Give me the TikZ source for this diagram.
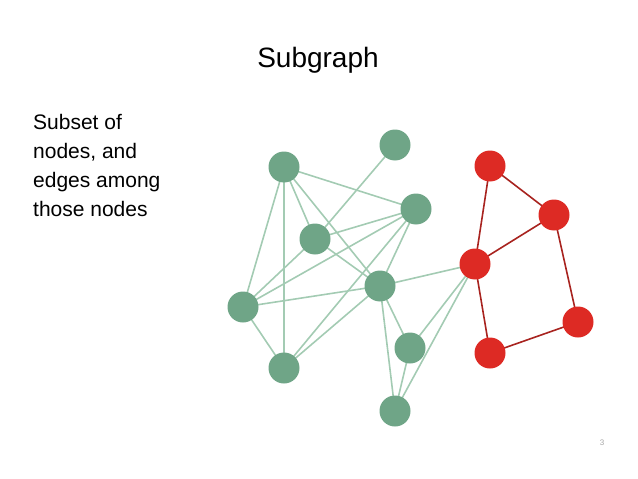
\documentclass[tikz,border=0pt]{standalone}
\usepackage{fontspec}
\setmainfont{Liberation Sans}
\usepackage{tikz}
\usetikzlibrary{shapes.geometric}
\definecolor{greennode}{HTML}{6FA587}
\definecolor{greenedge}{HTML}{A3CBB3}
\definecolor{rednode}{HTML}{DD2A24}
\definecolor{rededge}{HTML}{A8231F}
\tikzstyle{gnode} = [circle, minimum size=31pt, inner sep=0pt, fill=greennode]
\tikzstyle{rnode} = [circle, minimum size=31pt, inner sep=0pt, fill=rednode]
\tikzstyle{gedge} = [draw=greenedge, line width=1.6pt]
\tikzstyle{redge} = [draw=rededge, line width=1.6pt]

\begin{document}
\begin{tikzpicture}[x=1pt, y=-1pt]
		\useasboundingbox (0,0) rectangle (638,479);
		\node (title) [font=\fontsize{28}{32}\selectfont] at (318,60) {Subgraph};
		\node (desc) [anchor=north west, align=left, inner sep=0pt,
			font=\fontsize{21}{29}\selectfont] at (33,114)
			{Subset of\\nodes, and\\edges among\\those nodes};
		\node (page) [font=\fontsize{8}{10}\selectfont, text=gray!70] at (602,443) {3};
		
		\coordinate (pA) at (284,167);
		\coordinate (pB) at (395,145);
		\coordinate (pC) at (416,209);
		\coordinate (pD) at (315,239);
		\coordinate (pE) at (380,286);
		\coordinate (pF) at (243,307);
		\coordinate (pG) at (284,368);
		\coordinate (pH) at (410,348);
		\coordinate (pI) at (395,411);
		\coordinate (pR1) at (490,166);
		\coordinate (pR2) at (554,215);
		\coordinate (pR3) at (475,264);
		\coordinate (pR4) at (578,322);
		\coordinate (pR5) at (490,353);
		
		% edges first, nodes on top
		\foreach \a/\b in {A/C, A/D, A/E, A/F, A/G, B/D, D/C, D/F, D/E, C/F, C/G, C/E,
			F/E, F/G, G/E, E/R3, E/H, E/I, H/I, H/R3, I/R3}
			\draw [gedge] (p\a) -- (p\b);
		\foreach \a/\b in {R1/R2, R1/R3, R2/R3, R2/R4, R4/R5, R5/R3}
			\draw [redge] (p\a) -- (p\b);
		
		\foreach \n in {A, B, C, D, E, F, G, H, I}
			\node (\n) [gnode] at (p\n) {};
		\foreach \n in {R1, R2, R3, R4, R5}
			\node (\n) [rnode] at (p\n) {};
	\end{tikzpicture}
\end{document}
